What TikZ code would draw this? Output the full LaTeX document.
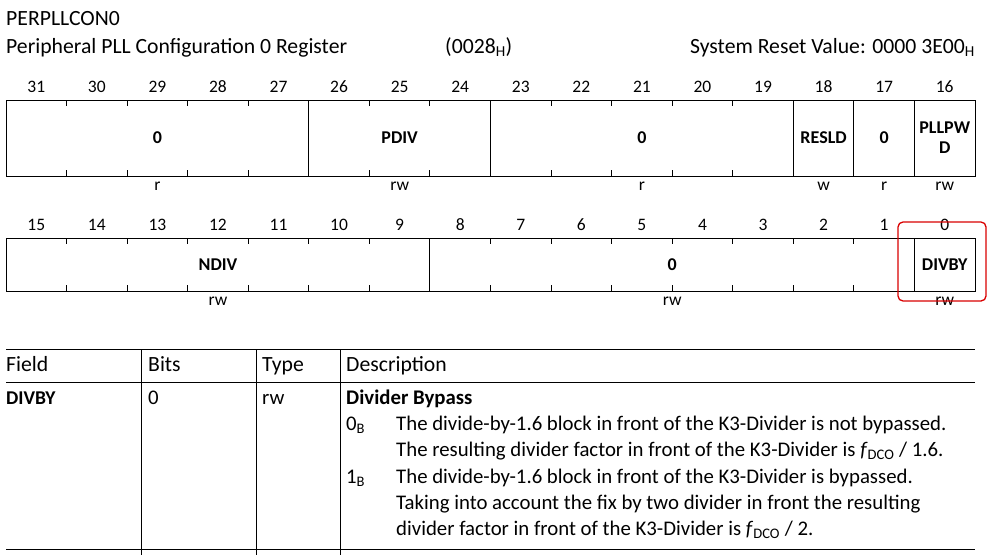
\documentclass[tikz,border=0pt]{standalone}
\usepackage{fontspec}
\setmainfont{Carlito}
\begin{document}
\begin{tikzpicture}[x=1pt,y=-1pt,
  num/.style={font=\fontsize{17.5}{17.5}\selectfont,text height=12pt,text depth=0pt},
  fld/.style={font=\bfseries\fontsize{18}{20}\selectfont,align=center},
  acc/.style={font=\fontsize{17.5}{17.5}\selectfont},
  txt/.style={font=\fontsize{21.7}{21.7}\selectfont,anchor=west,inner sep=0pt,text height=14pt,text depth=4pt},
  reg/.style={line width=0.9pt},
  tbl/.style={line width=0.8pt}]
\useasboundingbox (0,0) rectangle (999,555);
\def\W{60.5625}
\node[txt] (t1) at (6,20) {PERPLLCON0};
\node[txt] (t2) at (6,48) {Peripheral PLL Configuration 0 Register};
\node[txt] (t3) at (445,48) {(0028\textsubscript{H})};
\node[txt,anchor=east] (t4) at (975,48) {System Reset Value: 0000 3E00\textsubscript{H}};
\foreach \i in {0,...,15}{
  \pgfmathtruncatemacro\b{31-\i}
  \node[num] (n\b) at ({6+(\i+0.5)*\W},86) {\b};
  \pgfmathtruncatemacro\c{15-\i}
  \node[num] (n\c) at ({6+(\i+0.5)*\W},224) {\c};
}
\draw[reg] (6,100) rectangle (975,176);
\draw[reg] (6,238) rectangle (975,291);
\foreach \i in {1,...,15}{
  \draw[reg] ({6+\i*\W},100) -- ++(0,6);
  \draw[reg] ({6+\i*\W},176) -- ++(0,-6);
  \draw[reg] ({6+\i*\W},238) -- ++(0,6);
  \draw[reg] ({6+\i*\W},291) -- ++(0,-6);
}
\foreach \i in {5,8,13,14,15}{\draw[reg] ({6+\i*\W},100) -- ({6+\i*\W},176);}
\foreach \i in {7,15}{\draw[reg] ({6+\i*\W},238) -- ({6+\i*\W},291);}
\node[fld] (f1) at ({6+2.5*\W},138) {0};
\node[fld] (f2) at ({6+6.5*\W},138) {PDIV};
\node[fld] (f3) at ({6+10.5*\W},138) {0};
\node[fld] (f4) at ({6+13.5*\W},138) {RESLD};
\node[fld] (f5) at ({6+14.5*\W},138) {0};
\node[fld] (f6) at ({6+15.5*\W},138) {PLLPW\\D};
\node[fld] (g1) at ({6+3.5*\W},265) {NDIV};
\node[fld] (g2) at ({6+11*\W},265) {0};
\node[fld] (g3) at ({6+15.5*\W},265) {DIVBY};
\node[acc] (a1) at ({6+2.5*\W},186) {r};
\node[acc] (a2) at ({6+6.5*\W},186) {rw};
\node[acc] (a3) at ({6+10.5*\W},186) {r};
\node[acc] (a4) at ({6+13.5*\W},186) {w};
\node[acc] (a5) at ({6+14.5*\W},186) {r};
\node[acc] (a6) at ({6+15.5*\W},186) {rw};
\node[acc] (b1) at ({6+3.5*\W},301) {rw};
\node[acc] (b2) at ({6+11*\W},301) {rw};
\node[acc] (b3) at ({6+15.5*\W},301) {rw};
\draw[red!85!black,line width=1.3pt,rounded corners=5pt] (898,222) rectangle (986,301);
\draw[tbl] (6,349) -- (975,349);
\draw[tbl] (6,382) -- (975,382);
\draw[tbl] (6,549) -- (975,549);
\foreach \x in {141,256,340}{\draw[tbl] (\x,349) -- (\x,555);}
\node[txt] (h1) at (6,366) {Field};
\node[txt] (h2) at (148,366) {Bits};
\node[txt] (h3) at (262,366) {Type};
\node[txt] (h4) at (346,366) {Description};
\tikzset{dsc/.style={txt,font=\fontsize{20.8}{20.8}\selectfont}}
\node[dsc,font=\bfseries\fontsize{19.5}{19.5}\selectfont] (d1) at (6,399) {DIVBY};
\node[dsc] (d2) at (148,399) {0};
\node[dsc] (d3) at (262,399) {rw};
\node[dsc,font=\bfseries\fontsize{20.8}{20.8}\selectfont] (d4) at (346,399) {Divider Bypass};
\node[dsc] (e0) at (346,425) {0\textsubscript{B}};
\node[dsc] (e1) at (396,425) {The divide-by-1.6 block in front of the K3-Divider is not bypassed.};
\node[dsc] (e2) at (396,451) {The resulting divider factor in front of the K3-Divider is \textit{f}\textsubscript{DCO} / 1.6.};
\node[dsc] (e3) at (346,478) {1\textsubscript{B}};
\node[dsc] (e4) at (396,478) {The divide-by-1.6 block in front of the K3-Divider is bypassed.};
\node[dsc] (e5) at (396,504) {Taking into account the fix by two divider in front the resulting};
\node[dsc] (e6) at (396,530) {divider factor in front of the K3-Divider is \textit{f}\textsubscript{DCO} / 2.};
\end{tikzpicture}
\end{document}
